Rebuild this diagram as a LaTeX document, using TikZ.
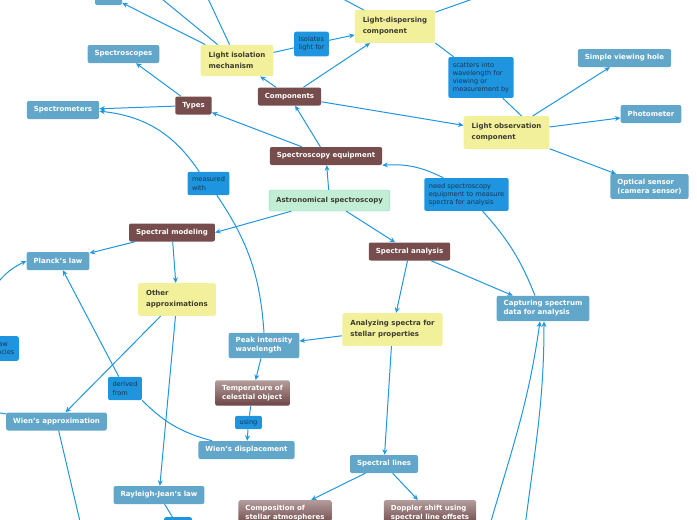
\documentclass[tikz,border=0pt]{standalone}
\usepackage{fontspec}
\setmainfont{DejaVu Sans}
\usepackage{tikz}
\usetikzlibrary{arrows.meta}
\usetikzlibrary{positioning}
\definecolor{leafblue}{HTML}{62A6C9}
\definecolor{tagblue}{HTML}{1F95DF}
\definecolor{tagink}{HTML}{1B3550}
\definecolor{headbrown}{HTML}{774C4C}
\definecolor{ideayellow}{HTML}{F3F09B}
\definecolor{ideaink}{HTML}{3D3D2D}
\definecolor{rootgreen}{HTML}{C3EED6}
\definecolor{rootedge}{HTML}{8FD8C4}
\definecolor{linkblue}{HTML}{2196E0}

\begin{document}
\begin{tikzpicture}
			[x=1pt,y=-1pt,
			every node/.style={rounded corners=2pt,inner xsep=7pt,inner ysep=4.8pt,font=\fontsize{7}{9}\selectfont\bfseries},
			leaf/.style={fill=leafblue,text=white,align=left,minimum height=18pt},
			head/.style={fill=headbrown,text=white,align=left,minimum height=18pt},
			headsoft/.style={top color=headbrown!55!white,bottom color=headbrown!90!black,text=white,align=left},
			idea/.style={fill=ideayellow,text=ideaink,align=left,inner xsep=8pt,inner ysep=7.5pt,font=\fontsize{7}{11}\selectfont\bfseries},
			root/.style={fill=rootgreen,draw=rootedge,text=ideaink,minimum height=21pt},
			tag/.style={fill=tagblue,text=tagink,align=left,inner xsep=4.5pt,inner ysep=5pt,font=\fontsize{6.6}{8.2}\selectfont},
			link/.style={draw=linkblue,line width=1pt,-{Stealth[length=5.5pt,width=5pt]}},
			wire/.style={draw=linkblue,line width=1pt}]
			\useasboundingbox (0,0) rectangle (697,520);
			\clip (0,0) rectangle (697,520);
			\node[leaf,minimum width=27pt] (hidden) at (108.5,-4) {};
			\node[idea] (isolation) at (237,60.5) {Light isolation\\mechanism};
			\node[tag] (isolates) at (311.5,44) {Isolates\\light for};
			\node[idea] (dispersing) at (395,26.5) {Light-dispersing\\component};
			\node[head] (components) at (289.5,96.5) {Components};
			\node[head] (types) at (193.5,105.5) {Types};
			\node[leaf] (spectroscopes) at (123.5,54) {Spectroscopes};
			\node[leaf] (spectrometers) at (63,110) {Spectrometers};
			\node[head] (equipment) at (326,156) {Spectroscopy equipment};
			\node[root] (astro) at (329.5,200.5) {Astronomical spectroscopy};
			\node[idea] (observation) at (506.5,132.5) {Light observation\\component};
			\node[tag] (scatters) at (481,77.5) {scatters into\\wavelength for\\viewing or\\measurement by};
			\node[leaf] (viewing) at (624.5,58) {Simple viewing hole};
			\node[leaf] (photometer) at (651,114) {Photometer};
			\node[leaf] (sensor) at (649.5,186.5) {Optical sensor\\(camera sensor)};
			\node[tag] (needs) at (466.5,194.5) {need spectroscopy\\equipment to measure\\spectra for analysis};
			\node[head] (modeling) at (172,232.5) {Spectral modeling};
			\node[leaf] (planck) at (58,261) {Planck's law};
			\node[idea] (approx) at (177,299.5) {Other\\approximations};
			\node[tag] (measured) at (208.5,183.5) {measured\\with};
			\node[head] (analysis) at (409.5,251.5) {Spectral analysis};
			\node[leaf] (capturing) at (543,308.5) {Capturing spectrum\\data for analysis};
			\node[idea] (analyzing) at (392.5,329.5) {Analyzing spectra for\\stellar properties};
			\node[leaf] (peak) at (264,345.5) {Peak intensity\\wavelength};
			\node[headsoft] (temperature) at (252.5,393) {Temperature of\\celestial object};
			\node[tag,inner ysep=3.5pt] (using) at (248.5,422.5) {using};
			\node[leaf] (displacement) at (246.5,450) {Wien's displacement};
			\node[tag] (derived) at (125,388.5) {derived\\from};
			\node[leaf] (wienapprox) at (56.5,421.5) {Wien's approximation};
			\node[tag,anchor=east] (extremes) at (19,348.5) {matches Planck's law\\at very low frequencies};
			\node[leaf] (rayleigh) at (159,495) {Rayleigh-Jean's law};
			\node[tag,minimum width=28pt,minimum height=18pt,anchor=north] (hiddentag) at (178,517) {};
			\node[headsoft,anchor=north] (composition) at (285,500) {Composition of\\stellar atmospheres};
			\node[headsoft,anchor=north] (doppler) at (430,500) {Doppler shift using\\spectral line offsets};
			\node[leaf] (lines) at (384,464) {Spectral lines};
			
			\coordinate (upA) at (151,-10);
			\coordinate (upB) at (204,-10);
			\coordinate (upC) at (498,-10);
			\coordinate (upD) at (326,-10);
			\coordinate (downA) at (82,530);
			\coordinate (farW) at (-20,410);
			\coordinate (lowA) at (487,535);
			\coordinate (lowB) at (524,535);
			
			\foreach \from/\to in 
			{astro/equipment, astro/analysis, equipment/types, equipment/components,
			types/spectroscopes, types/spectrometers, components/isolation, components/dispersing,
			components/observation, isolates/dispersing, observation/viewing, observation/photometer,
			observation/sensor, analysis/capturing, analysis/analyzing, analyzing/peak, analyzing/lines,
			peak/temperature, using/displacement, derived/planck, modeling/planck, modeling/approx,
			approx/wienapprox, approx/rayleigh, lines/composition, lines/doppler, isolation/hidden}
			\draw[link] (\from) -- (\to);
			\draw[link] (astro) -- (modeling.east);
			
			\foreach \from/\to in 
			{isolation/isolates, temperature/using, rayleigh/hiddentag, isolation/upA, isolation/upB,
			dispersing/upC, upD/dispersing, farW/wienapprox, wienapprox/downA}
			\draw[wire] (\from) -- (\to);
			\draw[wire] (dispersing.south east) -- (scatters);
			\draw[wire] (scatters) -- ([xshift=15pt]observation.north);
			
			\draw[wire] ([xshift=-8pt]capturing.north) to[bend right=10] (needs);
			\draw[link] ([xshift=-23pt]needs.north) to[bend right=15] (equipment.south east);
			\draw[wire] (peak.north) to[bend right=15] (measured);
			\draw[link] (measured) to[bend right=25] (spectrometers);
			\draw[wire] (displacement.165) to[bend left=15] (derived.south east);
			\draw[link] (extremes.north) to[out=75,in=205] (planck.west);
			\draw[link] (lowA) to[out=74,in=-98] ([xshift=-3pt]capturing.south);
			\draw[link] (lowB) to[out=83,in=-90] ([xshift=1pt]capturing.south);
			\end{tikzpicture}
\end{document}
